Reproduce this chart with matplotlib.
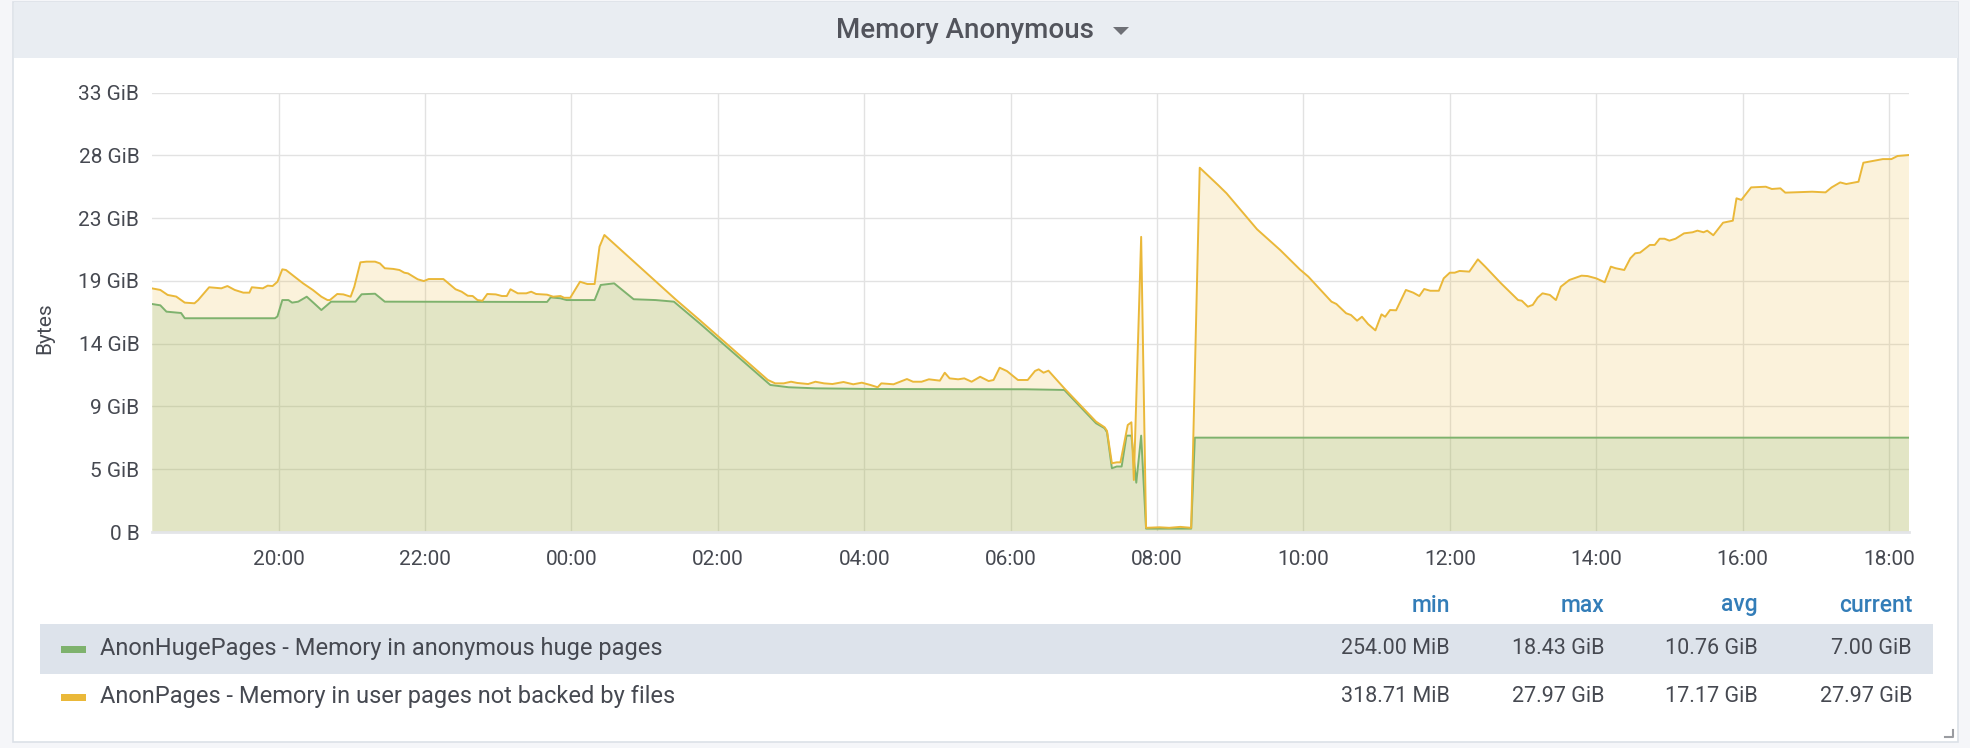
import datetime as dt
import matplotlib
matplotlib.use("Agg")
import matplotlib.pyplot as plt
import matplotlib.dates as mdates
from matplotlib.patches import Rectangle, Polygon

plt.rcParams["font.family"] = ["Roboto", "DejaVu Sans"]

# AnonPages series (clock time, GiB)
anon_times = [
    "18:16", "18:23", "18:29", "18:36", "18:43", "18:51", "18:54", "19:03", "19:13", "19:18",
    "19:24", "19:31", "19:36", "19:38", "19:47", "19:51", "19:55", "19:59", "20:03", "20:06",
    "20:13", "20:20", "20:28", "20:35", "20:40", "20:42", "20:48", "20:53", "20:59", "21:02",
    "21:07", "21:12", "21:19", "21:23", "21:27", "21:34", "21:39", "21:43", "21:46", "21:54",
    "21:59", "22:03", "22:15", "22:17", "22:25", "22:30", "22:35", "22:39", "22:43", "22:47",
    "22:51", "22:58", "23:03", "23:07", "23:10", "23:16", "23:23", "23:27", "23:31", "23:40",
    "23:45", "23:51", "23:54", "23:59", "00:07", "00:13", "00:19", "00:23", "00:27", "01:26",
    "01:45", "02:41", "02:47", "02:54", "03:00", "03:05", "03:14", "03:20", "03:27", "03:34",
    "03:43", "03:51", "03:58", "04:05", "04:11", "04:14", "04:24", "04:35", "04:40", "04:47",
    "04:53", "05:02", "05:06", "05:10", "05:17", "05:22", "05:28", "05:35", "05:42", "05:46",
    "05:51", "05:57", "06:06", "06:14", "06:20", "06:23", "06:27", "06:31", "06:44", "07:10",
    "07:17", "07:19", "07:23", "07:27", "07:30", "07:36", "07:39", "07:41", "07:47", "07:51",
    "08:02", "08:10", "08:19", "08:28", "08:35", "08:50", "08:57", "09:22", "09:41", "09:57",
    "10:04", "10:23", "10:27", "10:35", "10:39", "10:44", "10:48", "10:53", "10:59", "11:04",
    "11:07", "11:11", "11:16", "11:19", "11:24", "11:30", "11:35", "11:39", "11:44", "11:51",
    "11:55", "12:00", "12:04", "12:08", "12:16", "12:23", "12:29", "12:42", "12:56", "12:59",
    "13:04", "13:08", "13:12", "13:16", "13:22", "13:27", "13:31", "13:38", "13:48", "13:53",
    "14:00", "14:07", "14:12", "14:16", "14:23", "14:28", "14:32", "14:36", "14:44", "14:48",
    "14:52", "14:56", "15:00", "15:05", "15:12", "15:19", "15:23", "15:28", "15:31", "15:36",
    "15:44", "15:52", "15:55", "15:59", "16:07", "16:19", "16:24", "16:31", "16:35", "16:57",
    "17:08", "17:13", "17:20", "17:25", "17:35", "17:39", "17:55", "18:02", "18:07", "18:16",
]
anon_gib = [
    18.08, 17.96, 17.59, 17.47, 17.02, 16.97, 17.21, 18.16, 18.08, 18.25,
    17.96, 17.76, 17.76, 18.16, 18.08, 18.28, 18.25, 18.57, 19.49, 19.44,
    18.95, 18.45, 17.96, 17.46, 17.21, 17.21, 17.66, 17.63, 17.46, 18.20,
    20.01, 20.06, 20.06, 19.93, 19.57, 19.52, 19.44, 19.24, 19.19, 18.75,
    18.62, 18.77, 18.77, 18.62, 18.01, 17.83, 17.53, 17.51, 17.21, 17.16,
    17.66, 17.63, 17.51, 17.51, 18.01, 17.71, 17.71, 17.83, 17.66, 17.61,
    17.46, 17.51, 17.38, 17.38, 18.57, 18.40, 18.40, 21.17, 22.04, 17.21,
    15.73, 11.28, 11.03, 11.03, 11.15, 11.06, 10.98, 11.15, 11.03, 10.98,
    11.13, 10.96, 11.08, 10.91, 10.74, 11.03, 10.96, 11.35, 11.15, 11.15,
    11.33, 11.23, 11.82, 11.40, 11.33, 11.40, 11.15, 11.52, 11.20, 11.28,
    12.19, 11.94, 11.28, 11.28, 11.95, 12.07, 11.82, 11.97, 10.66, 8.19,
    7.77, 7.50, 5.10, 5.17, 5.17, 7.94, 8.14, 3.86, 21.90, 0.31,
    0.35, 0.31, 0.38, 0.31, 27.03, 25.75, 25.13, 22.46, 20.92, 19.49,
    18.95, 17.09, 16.92, 16.23, 16.10, 15.68, 15.97, 15.43, 14.96, 16.15,
    15.97, 16.47, 16.45, 17.02, 17.96, 17.76, 17.51, 18.03, 17.90, 17.90,
    18.82, 19.24, 19.24, 19.37, 19.32, 20.23, 19.69, 18.45, 17.21, 17.16,
    16.72, 16.85, 17.39, 17.71, 17.59, 17.21, 18.20, 18.70, 19.02, 18.99,
    18.82, 18.53, 19.69, 19.57, 19.44, 20.31, 20.68, 20.73, 21.30, 21.30,
    21.76, 21.76, 21.62, 21.76, 22.16, 22.24, 22.36, 22.24, 22.36, 22.02,
    22.95, 23.10, 24.76, 24.64, 25.57, 25.62, 25.45, 25.50, 25.18, 25.25,
    25.20, 25.57, 25.94, 25.82, 25.99, 27.40, 27.67, 27.67, 27.90, 27.97,
]

# AnonHugePages series (clock time, GiB)
huge_times = [
    "18:16", "18:23", "18:28", "18:34", "18:40", "18:43", "19:57", "19:59", "20:03", "20:08",
    "20:11", "20:16", "20:23", "20:29", "20:35", "20:43", "21:03", "21:08", "21:19", "21:27",
    "23:40", "23:43", "23:51", "23:56", "00:19", "00:24", "00:35", "00:51", "01:09", "01:24",
    "01:45", "02:43", "02:58", "03:20", "04:07", "06:12", "06:44", "07:10", "07:17", "07:19",
    "07:23", "07:27", "07:31", "07:35", "07:39", "07:43", "07:47", "07:51", "08:28", "08:31",
    "18:16",
]
huge_gib = [
    16.92, 16.82, 16.35, 16.30, 16.25, 15.86, 15.86, 16.00, 17.21, 17.21,
    17.02, 17.09, 17.46, 16.97, 16.47, 17.09, 17.09, 17.64, 17.68, 17.09,
    17.07, 17.41, 17.34, 17.21, 17.21, 18.33, 18.45, 17.27, 17.21, 17.09,
    15.49, 10.91, 10.74, 10.66, 10.61, 10.59, 10.54, 8.07, 7.70, 7.40,
    4.73, 4.86, 4.86, 7.15, 7.15, 3.66, 7.15, 0.25, 0.25, 7.00,
    7.00,
]

y_tick_bytes = [0, 5e9, 10e9, 15e9, 20e9, 25e9, 30e9, 35e9]
y_tick_labels = ["0 B", "5 GiB", "9 GiB", "14 GiB", "19 GiB", "23 GiB", "28 GiB", "33 GiB"]

series_names = [
    "AnonHugePages - Memory in anonymous huge pages",
    "AnonPages - Memory in user pages not backed by files",
]
stat_headers = ["min", "max", "avg", "current"]
stats_huge = ["254.00 MiB", "18.43 GiB", "10.76 GiB", "7.00 GiB"]
stats_anon = ["318.71 MiB", "27.97 GiB", "17.17 GiB", "27.97 GiB"]

GIB = 2 ** 30
GREEN = "#7EB26D"
YELLOW = "#EAB839"
TEXT = "#464951"
W, H = 1970, 748


def to_datetimes(times):
    # clock strings in order; roll over to the next day when time goes backwards
    out = []
    day = 0
    prev = None
    for t in times:
        h, m = map(int, t.split(":"))
        cur = dt.datetime(2019, 5, 1, h, m) + dt.timedelta(days=day)
        if prev is not None and cur < prev:
            day += 1
            cur += dt.timedelta(days=1)
        out.append(cur)
        prev = cur
    return out


def fx(x):
    return x / W


def fy(y):
    return 1 - y / H


anon_x = to_datetimes(anon_times)
huge_x = to_datetimes(huge_times)
anon_y = [v * GIB for v in anon_gib]
huge_y = [v * GIB for v in huge_gib]

fig = plt.figure(figsize=(W / 100, H / 100), dpi=100)
fig.patch.set_facecolor("#f5f6f9")

# panel and header band
fig.add_artist(Rectangle((fx(13), fy(742)), fx(1958) - fx(13), fy(2) - fy(742),
                         transform=fig.transFigure, facecolor="white",
                         edgecolor="#dce1e8", lw=1.2, zorder=0))
fig.add_artist(Rectangle((fx(13.5), fy(58)), fx(1957.5) - fx(13.5), fy(2.5) - fy(58),
                         transform=fig.transFigure, facecolor="#e9edf2",
                         edgecolor="none", zorder=0.5))
fig.text(fx(965), fy(30), "Memory Anonymous", ha="center", va="center",
         fontsize=20, fontweight="medium", color="#52545c")
fig.add_artist(Polygon([(fx(1113), fy(27)), (fx(1129), fy(27)), (fx(1121), fy(35))],
                       closed=True, transform=fig.transFigure,
                       facecolor="#6e7076", edgecolor="none"))

ax = fig.add_axes([fx(151.8), fy(532), fx(1908.5) - fx(151.8), fy(92.7) - fy(532)])
ax.set_facecolor("white")

ax.fill_between(anon_x, 0, anon_y, color=YELLOW, alpha=0.18, lw=0, zorder=2)
ax.fill_between(huge_x, 0, huge_y, color=GREEN, alpha=0.2, lw=0, zorder=2)
ax.plot(huge_x, huge_y, color=GREEN, lw=1.4, zorder=3)
ax.plot(anon_x, anon_y, color=YELLOW, lw=1.4, zorder=4)

ax.set_xlim(dt.datetime(2019, 5, 1, 18, 16), dt.datetime(2019, 5, 2, 18, 16))
ax.set_ylim(0, 35e9)
ax.set_yticks(y_tick_bytes)
ax.set_yticklabels(y_tick_labels)
ax.xaxis.set_major_locator(mdates.HourLocator(byhour=range(0, 24, 2)))
ax.xaxis.set_major_formatter(mdates.DateFormatter("%H:%M"))

ax.grid(True, color="#e2e2e2", lw=1.0, zorder=1)
ax.set_axisbelow(True)
for side in ["top", "right", "left"]:
    ax.spines[side].set_visible(False)
ax.spines["bottom"].set_color("#e3e5e8")
ax.spines["bottom"].set_linewidth(2)
ax.tick_params(axis="both", length=0, labelsize=15, labelcolor=TEXT)
ax.tick_params(axis="y", pad=9)
ax.tick_params(axis="x", pad=13)

fig.text(fx(45), fy(328), "Bytes", rotation=90, ha="center", va="center",
         fontsize=15, color=TEXT)

# legend table
col_right = [1450, 1604, 1758, 1912]
for x, name in zip(col_right, stat_headers):
    fig.text(fx(x), fy(605), name, ha="right", va="center", fontsize=16.5,
             fontweight="medium", color="#337db8")

fig.add_artist(Rectangle((fx(40), fy(674)), fx(1933) - fx(40), fy(624) - fy(674),
                         transform=fig.transFigure, facecolor="#dde3eb",
                         edgecolor="none", zorder=0.6))

rows = [(649, GREEN, series_names[0], stats_huge),
        (697, YELLOW, series_names[1], stats_anon)]
for y, color, name, stats in rows:
    fig.add_artist(Rectangle((fx(61), fy(y + 4)), fx(86) - fx(61), fy(y - 3) - fy(y + 4),
                             transform=fig.transFigure, facecolor=color,
                             edgecolor="none", zorder=1))
    fig.text(fx(100.5), fy(y), name, ha="left", va="center", fontsize=17, color=TEXT)
    for x, s in zip(col_right, stats):
        fig.text(fx(x), fy(y), s, ha="right", va="center", fontsize=15.5, color=TEXT)

# resize handle in the corner
fig.add_artist(plt.Line2D([fx(1953), fx(1953), fx(1945)], [fy(730), fy(737), fy(737)],
                          transform=fig.transFigure, color="#9a9ca1", lw=1.5))

fig.savefig("out.png", dpi=100, facecolor=fig.get_facecolor())
